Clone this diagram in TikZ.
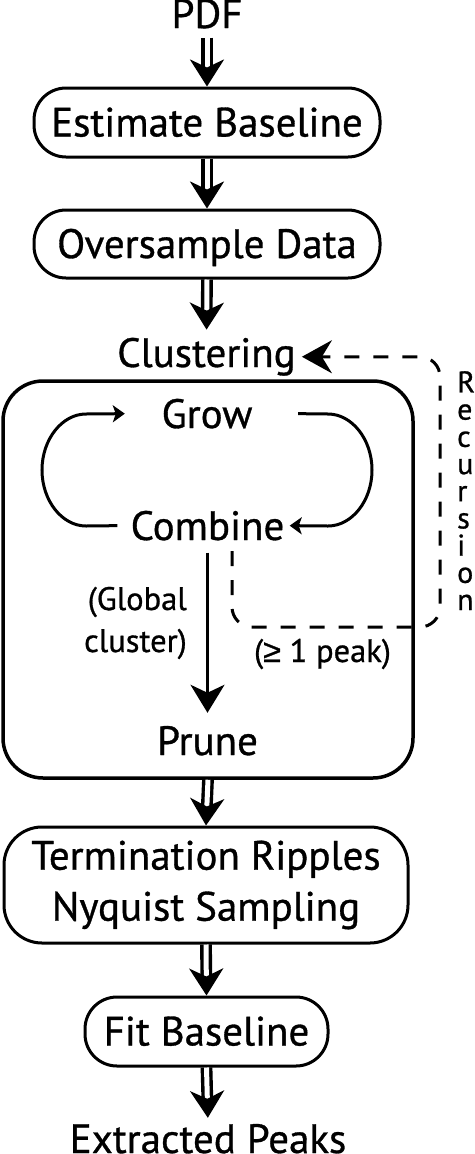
\documentclass[tikz,border=0pt]{standalone}
\usepackage{fontspec}
\setmainfont{PT Sans}[FakeBold=0.8]
\newfontfamily\symfont{Liberation Sans}[FakeBold=0.8]
\usetikzlibrary{arrows.meta}
\begin{document}
\begin{tikzpicture}[x=1pt,y=-1pt,
  big/.style={font=\fontsize{41}{51}\selectfont},
  small/.style={font=\fontsize{32.5}{42}\selectfont},
  flowbox/.style={big, draw, line width=3pt, rounded corners=32pt, inner sep=0pt, minimum height=69pt, text height=28pt, text depth=0pt},
  plain/.style={big, inner sep=0pt},
  dblarrow/.style={double distance=5pt, line width=3.4pt, -{Stealth[length=27pt,width=34pt,inset=8pt]}},
  bigarrow/.style={line width=3pt, -{Stealth[length=28pt,width=34pt,inset=8pt]}},
  looparrow/.style={line width=3pt, -{Stealth[length=12pt,width=17pt,inset=3pt]}},
  recur/.style={line width=3pt, dash pattern=on 15pt off 14pt, rounded corners=20pt, -{Stealth[length=30pt,width=33pt,inset=10pt]}},
]
\useasboundingbox (0,0) rectangle (474,1154);

\node[plain, anchor=base] (pdf) at (207,28) {PDF};
\node[flowbox, minimum width=346pt] (est) at (207,122.5) {Estimate Baseline};
\node[flowbox, minimum width=346pt, minimum height=68pt] (over) at (207,244) {Oversample Data};
\node[plain, anchor=base] (clust) at (206.5,367) {Clustering};
\node[draw, line width=3.5pt, rounded corners=40pt, minimum width=410pt, minimum height=397pt, inner sep=0pt] (cbox) at (208,579.5) {};
\node[plain, anchor=base, minimum width=164pt] (grow) at (207,428) {Grow};
\node[plain, anchor=base, minimum width=180pt] (comb) at (207.5,540) {Combine};
\node[plain, anchor=base] (prune) at (207.5,755) {Prune};
\node[small, align=right, inner sep=0pt, anchor=east] (glob) at (187,623) {(Global\\cluster)};
\node[small, anchor=base, inner sep=0pt] (peak) at (322.5,662) {({\symfont ≥} 1 peak)};
\node[font=\fontsize{30}{27.2}\selectfont, align=left, inner sep=0pt, anchor=north west] (rec) at (457,371) {R\\e\\c\\u\\r\\s\\i\\o\\n};
\node[big, draw, line width=3pt, rounded corners=38pt, inner sep=0pt, align=center, minimum width=404pt, minimum height=116pt] (term) at (206,885) {Termination Ripples\\Nyquist Sampling};
\node[flowbox, minimum width=243pt] (fit) at (206.5,1031.5) {Fit Baseline};
\node[plain, anchor=base] (peaks) at (208,1153) {Extracted Peaks};

\draw[dblarrow, shorten <=9pt] (pdf.south) -- (est.north);
\draw[dblarrow] (est.south) -- (over.north);
\draw[dblarrow, shorten >=8pt] (over.south) -- (clust.north);
\draw[dblarrow] (cbox.south) -- (term.north);
\draw[dblarrow] (term.south) -- (fit.north);
\draw[dblarrow, shorten >=6pt] (fit.south) -- (peaks.north);

\draw[looparrow] (comb.west) -- (86,526) .. controls (62.3,526) and (42,501) .. (42,470) .. controls (42,439) and (62.3,414) .. (86,414) -- (grow.west);
\draw[looparrow] ([xshift=9pt]grow.east) -- (328,414) .. controls (351.7,414) and (372,439) .. (372,470) .. controls (372,501) and (351.7,526) .. (328,526) -- ([xshift=-8pt]comb.east);
\draw[bigarrow, shorten <=12pt, shorten >=13pt] (comb.south) -- (prune.north);

\coordinate (rstart) at (232,551);
\draw[recur] (rstart) -- (232,627) -- (440,627) |- ([xshift=6pt]clust.east);
\end{tikzpicture}
\end{document}
